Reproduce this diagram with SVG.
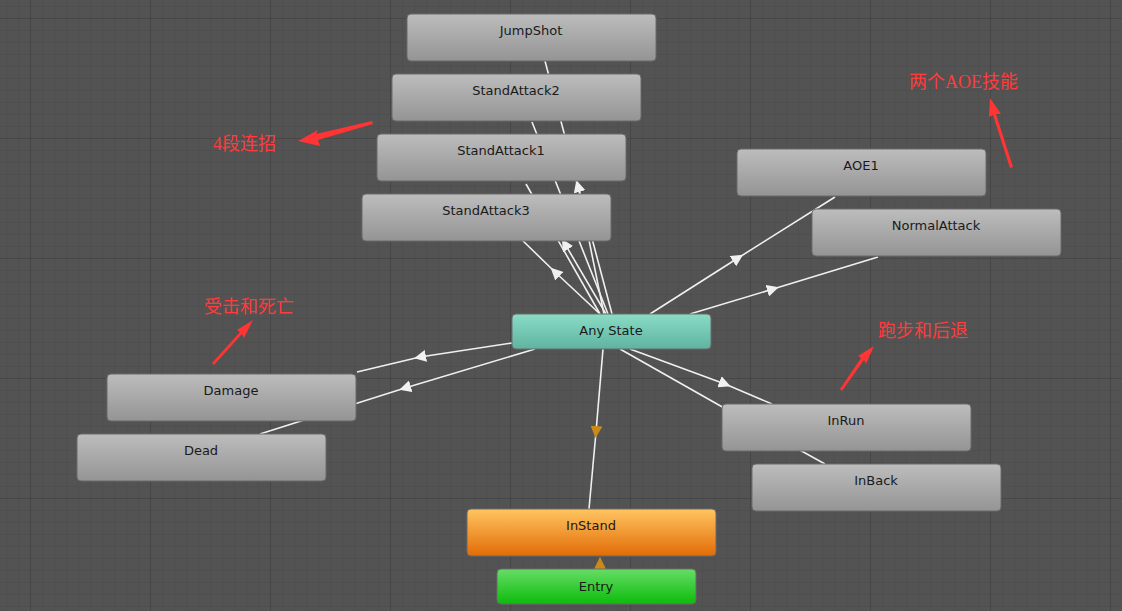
<svg xmlns="http://www.w3.org/2000/svg" width="1122" height="611" viewBox="0 0 1122 611">
<defs>
<pattern id="minor" width="12" height="12" patternUnits="userSpaceOnUse" x="6" y="6"><path d="M12 0H0V12" fill="none" stroke="#4b4b4b" stroke-width="1"/></pattern>
<pattern id="major" width="120" height="120" patternUnits="userSpaceOnUse" x="30" y="18"><path d="M120 0H0V120" fill="none" stroke="#3f3f3f" stroke-width="1.2"/></pattern>
<linearGradient id="gGray" x1="0" y1="0" x2="0" y2="1"><stop offset="0" stop-color="#bdbdbd"/><stop offset="1" stop-color="#949494"/></linearGradient>
<linearGradient id="gTeal" x1="0" y1="0" x2="0" y2="1"><stop offset="0" stop-color="#8adcc6"/><stop offset="1" stop-color="#5fb3a0"/></linearGradient>
<linearGradient id="gOrange" x1="0" y1="0" x2="0" y2="1"><stop offset="0" stop-color="#ffc561"/><stop offset="1" stop-color="#e26c06"/></linearGradient>
<linearGradient id="gGreen" x1="0" y1="0" x2="0" y2="1"><stop offset="0" stop-color="#66dd66"/><stop offset="1" stop-color="#0dbb0d"/></linearGradient>
<marker id="ah" viewBox="0 0 12 12" refX="6" refY="6" markerWidth="12" markerHeight="12" markerUnits="userSpaceOnUse" orient="auto"><path d="M0 0L12 6L0 12z" fill="#f0f0f0"/></marker>
<marker id="ahO" viewBox="0 0 12 12" refX="6" refY="6" markerWidth="12" markerHeight="12" markerUnits="userSpaceOnUse" orient="auto"><path d="M0 0L12 6L0 12z" fill="#c98a1a"/></marker>
</defs>
<style>
.n{stroke:#6a6a6a;stroke-width:1}
.t{font-family:Verdana,"DejaVu Sans",sans-serif;font-size:13px;fill:#1a1a1a;text-anchor:middle}
.c{stroke:#f0f0f0;stroke-width:1.6;fill:none}
.r{font-family:"Liberation Serif","Noto Sans CJK SC",serif;font-size:18px;fill:#ff3b3b}
.ra{fill:#ff3434}
</style>
<rect width="1122" height="611" fill="#535353"/>
<rect width="1122" height="611" fill="url(#minor)"/>
<rect width="1122" height="611" fill="url(#major)"/>
<g id="connectors">
<path class="c" d="M612 314L545 61"/>
<path class="c" d="M608 314L532 122"/>
<path class="c" d="M604 314L578 186L565 150" marker-mid="url(#ah)"/>
<path class="c" d="M600 314L526 184"/>
<path class="c" d="M606 314L565 244L550 220" marker-mid="url(#ah)"/>
<path class="c" d="M600 314L555 272L520 238" marker-mid="url(#ah)"/>
<path class="c" d="M650 314L738 258L835 197" marker-mid="url(#ah)"/>
<path class="c" d="M690 314L773 289L878 257" marker-mid="url(#ah)"/>
<path class="c" d="M512 343L420 357L357 372" marker-mid="url(#ah)"/>
<path class="c" d="M535 349L405 388L260 434" marker-mid="url(#ah)"/>
<path class="c" d="M630 349L725 384L772 404" marker-mid="url(#ah)"/>
<path class="c" d="M620 349L740 417L825 464"/>
<path class="c" d="M603 349L596 432L589 509" marker-mid="url(#ahO)" style="stroke:#f0f0f0"/>
<path d="M600 569L600 563L600 558" stroke="#c98a1a" stroke-width="1.5" fill="none" marker-mid="url(#ahO)"/>
</g>
<g id="JumpShot"><rect class="n" x="407" y="14" width="249" height="47" rx="4" fill="url(#gGray)"/><text class="t" x="531" y="35">JumpShot</text></g>
<g id="StandAttack2"><rect class="n" x="392" y="74" width="249" height="47" rx="4" fill="url(#gGray)"/><text class="t" x="516" y="95">StandAttack2</text></g>
<g id="StandAttack1"><rect class="n" x="377" y="134" width="249" height="47" rx="4" fill="url(#gGray)"/><text class="t" x="501" y="155">StandAttack1</text></g>
<g id="StandAttack3"><rect class="n" x="362" y="194" width="249" height="47" rx="4" fill="url(#gGray)"/><text class="t" x="486" y="215">StandAttack3</text></g>
<g id="AOE1"><rect class="n" x="737" y="149" width="249" height="47" rx="4" fill="url(#gGray)"/><text class="t" x="861" y="170">AOE1</text></g>
<g id="NormalAttack"><rect class="n" x="812" y="209" width="249" height="47" rx="4" fill="url(#gGray)"/><text class="t" x="936" y="230">NormalAttack</text></g>
<g id="AnyState"><rect class="n" x="512" y="314" width="199" height="35" rx="4" fill="url(#gTeal)"/><text class="t" x="611" y="335">Any State</text></g>
<g id="Damage"><rect class="n" x="107" y="374" width="249" height="47" rx="4" fill="url(#gGray)"/><text class="t" x="231" y="395">Damage</text></g>
<g id="Dead"><rect class="n" x="77" y="434" width="249" height="47" rx="4" fill="url(#gGray)"/><text class="t" x="201" y="455">Dead</text></g>
<g id="InRun"><rect class="n" x="722" y="404" width="249" height="47" rx="4" fill="url(#gGray)"/><text class="t" x="846" y="425">InRun</text></g>
<g id="InBack"><rect class="n" x="752" y="464" width="249" height="47" rx="4" fill="url(#gGray)"/><text class="t" x="876" y="485">InBack</text></g>
<g id="InStand"><rect class="n" x="467" y="509" width="249" height="47" rx="4" fill="url(#gOrange)"/><text class="t" x="591" y="530">InStand</text></g>
<g id="Entry"><rect class="n" x="497" y="569" width="199" height="35" rx="4" fill="url(#gGreen)"/><text class="t" x="596" y="591">Entry</text></g>
<g id="annotations">
<text class="r" x="213" y="150">4段连招</text>
<polygon class="ra" points="372,121 316,134 318,130 298,141 320,146 318,140 373,124"/>
<text class="r" x="909" y="88">两个AOE技能</text>
<polygon class="ra" points="1013,167 996,114 1001,114 990,98 989,117 993,115 1010,168"/>
<text class="r" x="204" y="313">受击和死亡</text>
<polygon class="ra" points="214,365 242,334 244,338 253,320 237,330 240,332 212,363"/>
<text class="r" x="878" y="337">跑步和后退</text>
<polygon class="ra" points="842,391 864,360 866,364 874,346 858,356 861,358 840,389"/>
</g>
</svg>
